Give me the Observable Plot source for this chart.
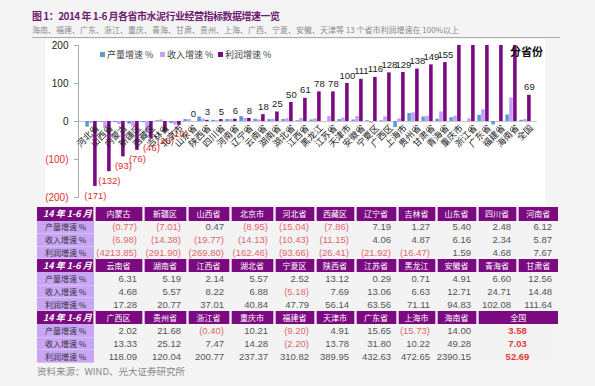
<!DOCTYPE html>
<html><head><meta charset="utf-8">
<script src="https://cdn.jsdelivr.net/npm/d3@7"></script>
<script src="https://cdn.jsdelivr.net/npm/@observablehq/plot@0.6"></script>
<style>
body{margin:0;background:#f4f4f4;width:595px;height:386px;position:relative;overflow:hidden;font-family:"Noto Sans CJK SC",sans-serif;}
#title{position:absolute;left:32px;top:9px;font-size:10px;letter-spacing:-0.5px;font-weight:bold;color:#6e1a70;white-space:nowrap;line-height:13px;}
#sub{position:absolute;left:32px;top:25px;font-size:8px;color:#8a8a8a;white-space:nowrap;line-height:10px;}
#rule{position:absolute;left:32px;top:37px;width:528px;height:1px;background:#aaa;}
#chart{position:absolute;left:45px;top:39px;width:500px;height:166px;background:#fff;}
#chart g[aria-label="value labels"] text{letter-spacing:-0.8px;}
#legend{position:absolute;left:0;top:10px;font-size:9px;color:#444;line-height:11px;}
#legend span.item{position:absolute;white-space:nowrap;}
#legend i{display:inline-block;width:5px;height:5px;margin-right:2px;vertical-align:1px;}
#tag{position:absolute;left:465px;top:6px;font-size:11px;font-weight:bold;color:#111;white-space:nowrap;line-height:13px;}
#tbl{position:absolute;left:37px;top:207px;border-collapse:collapse;table-layout:fixed;width:521px;}
#tbl td{padding:0;overflow:hidden;white-space:nowrap;box-sizing:border-box;}
#tbl tr.h td{background:#7b0a80;color:#fff;height:13.5px;line-height:12px;font-size:8px;text-align:center;border-left:3px double #c9a4cf;}
#tbl tr.h td.first{font-style:italic;font-weight:bold;font-size:9px;border-left:none;text-align:left;padding-left:6px;}
#tbl tr.d td{height:12.8px;line-height:11px;font-size:9.5px;color:#555;text-align:right;padding-right:6px;background:#f3f3f3;font-family:"Liberation Sans",sans-serif;}
#tbl tr.d td.lab{background:#c9a5f6;color:#333;text-align:left;padding-left:8px;font-size:8px;font-family:"Noto Sans CJK SC",sans-serif;border-bottom:1px solid #d8c0f8;}
#tbl tr.d td.neg{color:#e0676b;}
#tbl tr.d td.total{text-align:center;color:#e23a3a;font-weight:bold;padding-right:0;}
#src{position:absolute;left:37px;top:365px;font-size:9.5px;color:#888;line-height:12px;}
</style></head>
<body>
<div id="title">图 1：2014 年 1-6 月各省市水泥行业经营指标数据增速一览</div>
<div id="sub">海南、福建、广东、浙江、重庆、青海、甘肃、贵州、上海、广西、宁夏、安徽、天津等 13 个省市利润增速在 100%以上</div>
<div id="rule"></div>
<div id="chart"><div id="legend"></div><div id="tag">分省份</div></div>
<table id="tbl"></table>
<div id="src">资料来源：WIND、光大证券研究所</div>
<script>
// ---------- chart data ----------
const provinces = ["河北省","山西省","内蒙古","新疆区","西藏区","吉林省","北京市","山东省","陕西省","四川省","河南省","辽宁省","云南省","湖南省","湖北省","江西省","黑龙江","江苏省","天津市","安徽省","宁夏区","广西区","上海市","贵州省","甘肃省","青海省","重庆市","浙江省","广东省","福建省","海南省","全国"];
const prodGrowth = [-15,-2,-3,-7,-3,2,-5,5,12,3,5,13,6,5,5,2,4,0,5,4,2,2,-16,21,12,6,10,0,16,-9,17,3];
const revGrowth = [-5,-18,-8,-14,-30,4,-10,5,6,2,5,8,4,6,7,8,7,13,9,13,-5,12,7,23,14,25,14,7,31,-2,62,5];
const profitGrowth = [-171,-132,-93,-76,-46,-28,-10,0,3,5,6,8,18,25,50,61,78,78,100,111,116,128,129,138,149,155,237,201,433,311,2390,69];
const seriesNames = ["产量增速 %","收入增速 %","利润增速 %"];
const seriesColors = ["#5b9bd5","#c49ff5","#7a0a82"];
const yTicksPos = [0,100,200];
const yTicksNeg = [-100,-200];

// ---------- table data ----------
const rowLabels = ["产量增速 %","收入增速 %","利润增速 %"];
const headLabel = "14 年 1-6 月";
const t1Names = ["内蒙古","新疆区","山西省","北京市","河北省","西藏区","辽宁省","吉林省","山东省","四川省","河南省"];
const t1Prod = [-0.77,-7.01,0.47,-8.95,-15.04,-7.86,7.19,1.27,5.40,2.48,6.12];
const t1Rev = [-6.98,-14.38,-19.77,-14.13,-10.43,-11.15,4.06,4.87,6.16,2.34,5.87];
const t1Profit = [-4213.85,-291.90,-269.80,-162.46,-93.66,-26.41,-21.92,-16.47,1.59,4.68,7.67];
const t2Names = ["云南省","湖南省","江西省","湖北省","宁夏区","陕西省","江苏省","黑龙江","安徽省","青海省","甘肃省"];
const t2Prod = [6.31,5.19,2.14,5.57,2.52,13.12,0.29,0.71,4.91,6.60,12.56];
const t2Rev = [4.68,5.57,8.22,6.88,-5.18,7.69,13.06,6.63,12.71,24.71,14.48];
const t2Profit = [17.28,20.77,37.01,40.84,47.79,56.14,63.56,71.11,94.83,102.08,111.64];
const t3Names = ["广西区","贵州省","浙江省","重庆市","福建省","天津市","广东省","上海市","海南省","全国"];
const t3Prod = [2.02,21.68,-0.40,10.21,-9.20,4.91,15.65,-15.73,14.00,3.58];
const t3Rev = [13.33,25.12,7.47,14.28,-2.20,13.78,31.80,10.22,49.28,7.03];
const t3Profit = [118.09,120.04,200.77,237.37,310.82,389.95,432.63,472.65,2390.15,52.69];

// ---------- chart ----------
const W = 500, H = 166, mL = 33, mR = 8, mT = 6, mB = 8;
const step = (W - mL - mR) / provinces.length;
const barW = 3.9;
const rows = provinces.map((p, i) => ({p, prod: prodGrowth[i], rev: revGrowth[i], profit: profitGrowth[i]}));
function slot(k) {
  const c = step / 2 + k * barW;
  return {insetLeft: c - barW / 2, insetRight: step - c - barW / 2};
}
const numFont = "'Liberation Sans', sans-serif";
const chart = Plot.plot({
  width: W, height: H, marginLeft: mL, marginRight: mR, marginTop: mT, marginBottom: mB,
  style: {background: "transparent", fontFamily: numFont, fontSize: "10px", overflow: "visible"},
  x: {type: "band", domain: provinces, padding: 0, axis: null},
  y: {domain: [-200, 200], axis: null},
  marks: [
    Plot.ruleY([0], {stroke: "#c8c8c8"}),
    Plot.barY(rows, {x: "p", y: "prod", fill: seriesColors[0], ...slot(-1)}),
    Plot.barY(rows, {x: "p", y: "rev", fill: seriesColors[1], ...slot(0)}),
    Plot.barY(rows, {x: "p", y: "profit", fill: seriesColors[2], clip: true, ...slot(1)}),
    Plot.frame({anchor: "left", stroke: "#aaa"}),
    Plot.axisY(yTicksPos, {tickSize: 4, tickPadding: 6, stroke: "#aaa", fill: "#222", tickFormat: d => String(d), fontSize: 10}),
    Plot.axisY(yTicksNeg, {tickSize: 4, tickPadding: 6, stroke: "#aaa", fill: "#e03030", tickFormat: d => `(${-d})`, fontSize: 10}),
    Plot.text(rows.filter(r => r.profit >= 0 && r.profit <= 200), {ariaLabel: "value labels", x: "p", y: "profit", text: d => String(d.profit), dx: barW, dy: -8, fill: "#222", fontSize: 9.5}),
    Plot.text(rows.filter(r => r.profit < 0), {ariaLabel: "value labels", x: "p", y: "profit", text: d => `(${-d.profit})`, dx: barW, dy: 9, fill: "#e03030", fontSize: 9.5}),
    Plot.text(rows, {x: "p", y: () => 0, text: "p", rotate: -45, textAnchor: "end", dx: 6, dy: 5, fill: "#222", fontSize: 9, fontFamily: "'Noto Sans CJK SC', sans-serif"})
  ]
});
document.getElementById("chart").prepend(chart);
chart.style.position = "absolute"; chart.style.left = "0"; chart.style.top = "0";

const legendX = [55, 115, 173];
const legend = document.getElementById("legend");
seriesNames.forEach((n, i) => {
  const s = document.createElement("span");
  s.className = "item";
  s.style.left = legendX[i] + "px";
  s.innerHTML = `<i style="background:${seriesColors[i]}"></i>${n}`;
  legend.appendChild(s);
});

// ---------- table ----------
const colW = [57, 49, 44, 43, 44, 41, 40, 42, 39, 41, 40, 41];
const tbl = document.getElementById("tbl");
const cg = document.createElement("colgroup");
colW.forEach(w => { const c = document.createElement("col"); c.style.width = w + "px"; cg.appendChild(c); });
tbl.appendChild(cg);
const fmt = v => v < 0 ? `(${(-v).toFixed(2)})` : v.toFixed(2);
function section(names, series, totalLast) {
  const h = document.createElement("tr"); h.className = "h";
  h.innerHTML = `<td class="first">${headLabel}</td>` + names.map((n, i) =>
    `<td${totalLast && i === names.length - 1 ? ' colspan="2"' : ""}>${n}</td>`).join("");
  tbl.appendChild(h);
  series.forEach((vals, r) => {
    const tr = document.createElement("tr"); tr.className = "d";
    tr.innerHTML = `<td class="lab">${rowLabels[r]}</td>` + vals.map((v, i) => {
      const isTotal = totalLast && i === vals.length - 1;
      const cls = isTotal ? "total" : (v < 0 ? "neg" : "");
      return `<td class="${cls}"${isTotal ? ' colspan="2"' : ""}>${fmt(v)}</td>`;
    }).join("");
    tbl.appendChild(tr);
  });
}
section(t1Names, [t1Prod, t1Rev, t1Profit], false);
section(t2Names, [t2Prod, t2Rev, t2Profit], false);
section(t3Names, [t3Prod, t3Rev, t3Profit], true);
</script>
</body></html>
